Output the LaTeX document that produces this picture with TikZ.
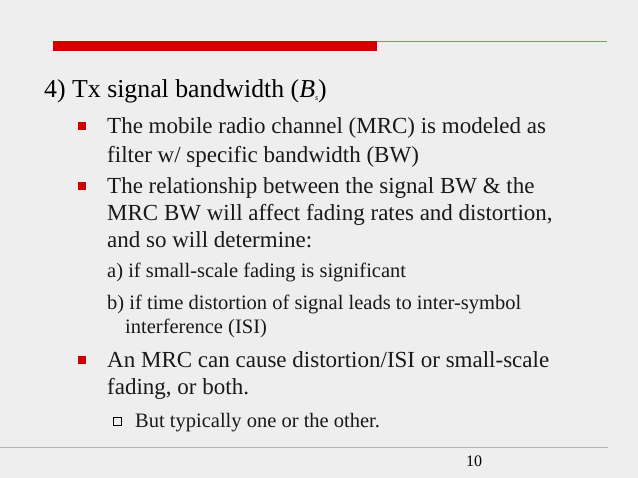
\documentclass[tikz,border=0pt]{standalone}
\usepackage{fontspec}
\setmainfont{Liberation Serif}
\definecolor{bg}{HTML}{EEEEEE}
\definecolor{slred}{HTML}{D00000}
\begin{document}
\begin{tikzpicture}[x=1pt,y=-1pt,
  txt/.style={anchor=base west,inner sep=0pt,font=\fontsize{23}{27}\selectfont,text=black!90},
  sub/.style={anchor=base west,inner sep=0pt,font=\fontsize{20.5}{24}\selectfont,text=black!90},
  sq/.style={fill=slred,minimum size=8pt,inner sep=0pt},
  hsq/.style={draw=black,fill=bg,minimum size=8pt,inner sep=0pt,line width=0.7pt}]
\fill[bg] (0,0) rectangle (638,478);
\useasboundingbox (0,0) rectangle (638,478);
\fill[slred] (53,41) rectangle (377,51);
\draw[slred!60,line width=1pt] (377,41.5) -- (607,41.5);
\node[anchor=base west,inner sep=0pt,font=\fontsize{25.8}{30}\selectfont] (title) at (44,98) {4) Tx signal bandwidth (\textit{B}\raisebox{-3pt}{\fontsize{8}{9}\selectfont\textit{s}})};
\node[sq] (b1) at (82,126) {};
\node[txt] (t1) at (107,134) {The mobile radio channel (MRC) is modeled as};
\node[txt] (t1b) at (107,163) {filter w/ specific bandwidth (BW)};
\node[sq] (b2) at (82,186) {};
\node[txt] (t2) at (107,194) {The relationship between the signal BW \& the};
\node[txt] (t2b) at (107,221) {MRC BW will affect fading rates and distortion,};
\node[txt] (t2c) at (107,248) {and so will determine:};
\node[sub] (s1) at (107,278) {a) if small-scale fading is significant};
\node[sub] (s2) at (107,310) {b) if time distortion of signal leads to inter-symbol};
\node[sub] (s2b) at (125,334) {interference (ISI)};
\node[sq] (b3) at (82,360) {};
\node[txt] (t3) at (107,368) {An MRC can cause distortion/ISI or small-scale};
\node[txt] (t3b) at (107,395) {fading, or both.};
\node[hsq] (b4) at (117,421) {};
\node[sub] (t4) at (135,428) {But typically one or the other.};
\draw[gray!60,line width=0.6pt] (0,447) -- (608,447);
\node[anchor=base west,inner sep=0pt,font=\fontsize{16}{19}\selectfont] (num) at (466,467) {10};
\end{tikzpicture}
\end{document}
